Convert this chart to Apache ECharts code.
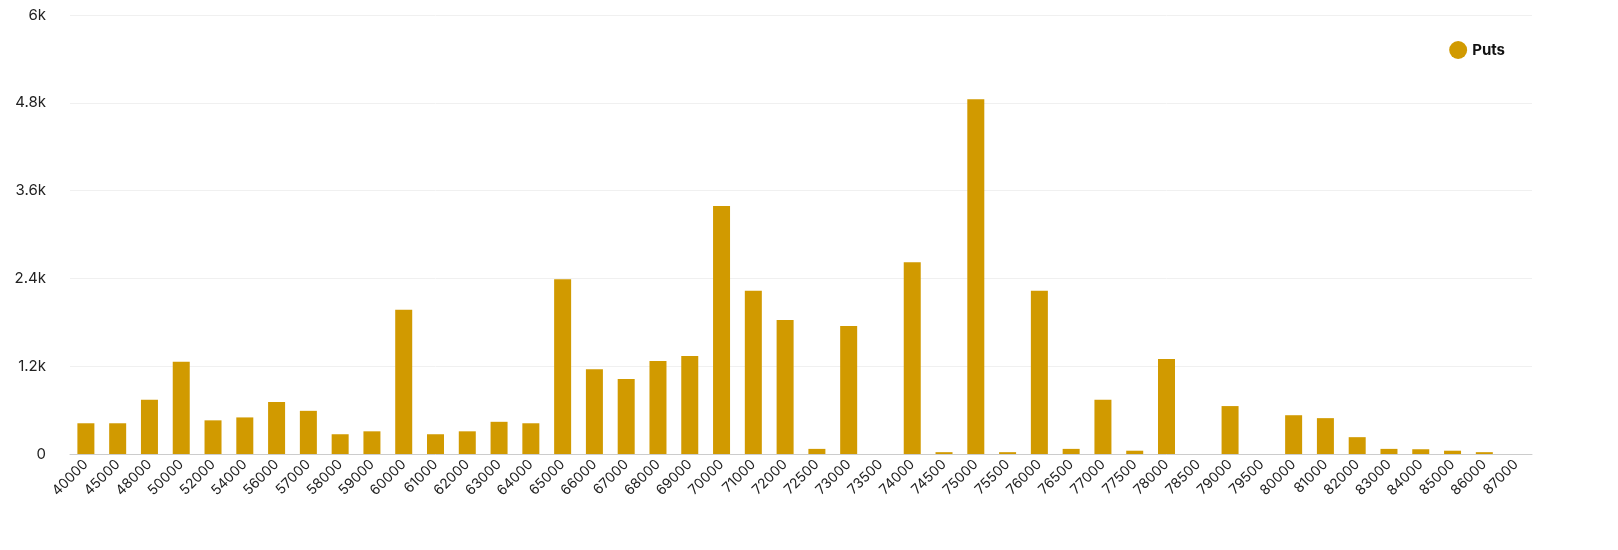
<!DOCTYPE html>
<html>
<head>
<meta charset="utf-8">
<script src="https://cdn.jsdelivr.net/npm/echarts@6/dist/echarts.min.js"></script>
<style>html,body{margin:0;padding:0;background:#fff}#chart{width:1618px;height:550px}</style>
</head>
<body>
<div id="chart"></div>
<script>
// strike prices
var strikes = ['40000','45000','48000','50000','52000','54000','56000','57000','58000','59000',
  '60000','61000','62000','63000','64000','65000','66000','67000','68000','69000',
  '70000','71000','72000','72500','73000','73500','74000','74500','75000','75500',
  '76000','76500','77000','77500','78000','78500','79000','79500','80000','81000',
  '82000','83000','84000','85000','86000','87000'];
// put open interest
var puts = [420,420,740,1260,460,500,710,590,270,310,
  1970,270,310,440,420,2390,1160,1025,1270,1340,
  3390,2230,1830,70,1750,0,2620,25,4850,25,
  2230,70,740,45,1300,0,655,0,530,490,
  230,70,65,45,25,0];

var chart = echarts.init(document.getElementById('chart'));
chart.setOption({
  animation: false,
  grid: { left: 70, right: 86, top: 15, bottom: 96 },
  legend: {
    data: ['Puts'], right: 108, top: 36, icon: 'circle', itemWidth: 18, itemHeight: 18,
    textStyle: { fontFamily: 'Inter', fontWeight: 'bold', fontSize: 15, color: '#111' }
  },
  xAxis: {
    type: 'category', data: strikes,
    axisTick: { show: false },
    axisLine: { lineStyle: { color: '#ccc' } },
    axisLabel: { interval: 0, rotate: 45, fontFamily: 'Inter', fontSize: 14, color: '#222', margin: 8 }
  },
  yAxis: {
    type: 'value', min: 0, max: 6000, interval: 1200,
    axisLabel: {
      fontFamily: 'Inter', fontSize: 15, color: '#222', margin: 24,
      formatter: function (v) { return v === 0 ? '0' : (v / 1000) + 'k'; }
    },
    splitLine: { lineStyle: { color: '#f0f0f0' } }
  },
  series: [{
    name: 'Puts', type: 'bar', data: puts, barWidth: 17,
    itemStyle: { color: '#d19a00' }
  }]
});
</script>
</body>
</html>
